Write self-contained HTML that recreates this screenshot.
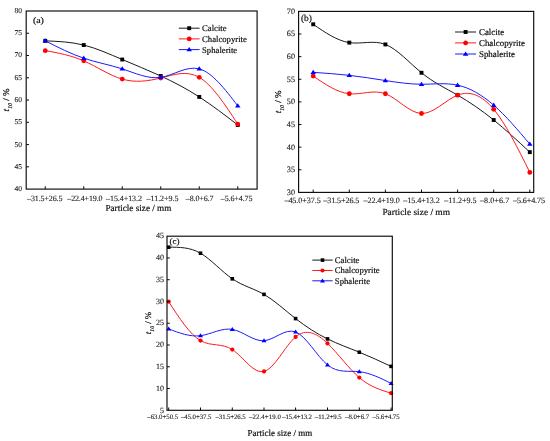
<!DOCTYPE html>
<html><head><meta charset="utf-8"><style>
html,body{margin:0;padding:0;background:#fff;width:550px;height:441px;overflow:hidden}
svg{display:block;filter:blur(0.35px)}
text{font-family:"Liberation Serif",serif;fill:#111;stroke:#111;stroke-width:0.2px;text-rendering:geometricPrecision}
text.tk{fill:#1e1e1e;stroke:#1e1e1e;stroke-width:0.12px}
</style></head><body>
<svg width="550" height="441" viewBox="0 0 550 441">
<rect width="550" height="441" fill="#fff"/>
<clipPath id="clipa"><rect x="26.2" y="11" width="230.90000000000003" height="178.1"/></clipPath>
<g>
<path d="M45.25,40.83 C58.08,41.36 70.92,41.88 83.75,45.06 C96.58,48.24 109.42,54.07 122.25,59.53 C135.08,65.00 147.92,70.10 160.75,76.01 C173.58,81.92 186.42,88.64 199.25,96.93 C212.08,105.23 224.92,115.11 237.75,124.98" fill="none" stroke="#1a1a1a" stroke-width="1.0"/>
<rect x="43.30" y="38.88" width="3.90" height="3.90" fill="#000"/>
<rect x="81.80" y="43.11" width="3.90" height="3.90" fill="#000"/>
<rect x="120.30" y="57.58" width="3.90" height="3.90" fill="#000"/>
<rect x="158.80" y="74.06" width="3.90" height="3.90" fill="#000"/>
<rect x="197.30" y="94.98" width="3.90" height="3.90" fill="#000"/>
<rect x="235.80" y="123.03" width="3.90" height="3.90" fill="#000"/>
<path d="M45.25,50.63 C58.08,52.93 70.92,55.24 83.75,60.87 C96.58,66.49 109.42,75.44 122.25,79.12 C135.08,82.81 147.92,81.23 160.75,78.01 C173.58,74.79 186.42,69.93 199.25,77.34 C212.08,84.75 224.92,104.42 237.75,124.09" fill="none" stroke="#ff1a1a" stroke-width="1.0"/>
<circle cx="45.25" cy="50.63" r="2.40" fill="#f00"/>
<circle cx="83.75" cy="60.87" r="2.40" fill="#f00"/>
<circle cx="122.25" cy="79.12" r="2.40" fill="#f00"/>
<circle cx="160.75" cy="78.01" r="2.40" fill="#f00"/>
<circle cx="199.25" cy="77.34" r="2.40" fill="#f00"/>
<circle cx="237.75" cy="124.09" r="2.40" fill="#f00"/>
<path d="M45.25,40.83 C58.08,47.34 70.92,53.86 83.75,58.20 C96.58,62.54 109.42,64.71 122.25,68.88 C135.08,73.06 147.92,79.24 160.75,77.34 C173.58,75.45 186.42,65.48 199.25,68.88 C212.08,72.29 224.92,89.06 237.75,105.84" fill="none" stroke="#1a1aff" stroke-width="1.0"/>
<path d="M45.25,38.25 L48.00,42.55 L42.50,42.55Z" fill="#00f"/>
<path d="M83.75,55.62 L86.50,59.92 L81.00,59.92Z" fill="#00f"/>
<path d="M122.25,66.30 L125.00,70.60 L119.50,70.60Z" fill="#00f"/>
<path d="M160.75,74.76 L163.50,79.06 L158.00,79.06Z" fill="#00f"/>
<path d="M199.25,66.30 L202.00,70.60 L196.50,70.60Z" fill="#00f"/>
<path d="M237.75,103.26 L240.50,107.56 L235.00,107.56Z" fill="#00f"/>
</g>
<rect x="26.20" y="11.00" width="230.90" height="178.10" fill="none" stroke="#0a0a0a" stroke-width="1.15"/>
<text x="22.10" y="191.05" text-anchor="end" class="tk" font-size="7.5">40</text>
<line x1="26.20" y1="166.84" x2="29.00" y2="166.84" stroke="#0a0a0a" stroke-width="1.0"/>
<text x="22.10" y="168.79" text-anchor="end" class="tk" font-size="7.5">45</text>
<line x1="26.20" y1="144.57" x2="29.00" y2="144.57" stroke="#0a0a0a" stroke-width="1.0"/>
<text x="22.10" y="146.52" text-anchor="end" class="tk" font-size="7.5">50</text>
<line x1="26.20" y1="122.31" x2="29.00" y2="122.31" stroke="#0a0a0a" stroke-width="1.0"/>
<text x="22.10" y="124.26" text-anchor="end" class="tk" font-size="7.5">55</text>
<line x1="26.20" y1="100.05" x2="29.00" y2="100.05" stroke="#0a0a0a" stroke-width="1.0"/>
<text x="22.10" y="102.00" text-anchor="end" class="tk" font-size="7.5">60</text>
<line x1="26.20" y1="77.79" x2="29.00" y2="77.79" stroke="#0a0a0a" stroke-width="1.0"/>
<text x="22.10" y="79.74" text-anchor="end" class="tk" font-size="7.5">65</text>
<line x1="26.20" y1="55.53" x2="29.00" y2="55.53" stroke="#0a0a0a" stroke-width="1.0"/>
<text x="22.10" y="57.48" text-anchor="end" class="tk" font-size="7.5">70</text>
<line x1="26.20" y1="33.26" x2="29.00" y2="33.26" stroke="#0a0a0a" stroke-width="1.0"/>
<text x="22.10" y="35.21" text-anchor="end" class="tk" font-size="7.5">75</text>
<text x="22.10" y="12.95" text-anchor="end" class="tk" font-size="7.5">80</text>
<line x1="45.25" y1="189.10" x2="45.25" y2="186.30" stroke="#0a0a0a" stroke-width="1.0"/>
<line x1="83.75" y1="189.10" x2="83.75" y2="186.30" stroke="#0a0a0a" stroke-width="1.0"/>
<line x1="122.25" y1="189.10" x2="122.25" y2="186.30" stroke="#0a0a0a" stroke-width="1.0"/>
<line x1="160.75" y1="189.10" x2="160.75" y2="186.30" stroke="#0a0a0a" stroke-width="1.0"/>
<line x1="199.25" y1="189.10" x2="199.25" y2="186.30" stroke="#0a0a0a" stroke-width="1.0"/>
<line x1="237.75" y1="189.10" x2="237.75" y2="186.30" stroke="#0a0a0a" stroke-width="1.0"/>
<text x="44.75" y="200.60" text-anchor="middle" class="tk" font-size="8.0" textLength="35.50" lengthAdjust="spacing">–31.5+26.5</text>
<text x="84.90" y="200.60" text-anchor="middle" class="tk" font-size="8.0" textLength="35.20" lengthAdjust="spacing">–22.4+19.0</text>
<text x="124.00" y="200.60" text-anchor="middle" class="tk" font-size="8.0" textLength="36.00" lengthAdjust="spacing">–15.4+13.2</text>
<text x="162.50" y="200.60" text-anchor="middle" class="tk" font-size="8.0" textLength="32.00" lengthAdjust="spacing">–11.2+9.5</text>
<text x="199.60" y="200.60" text-anchor="middle" class="tk" font-size="8.0" textLength="27.70" lengthAdjust="spacing">–8.0+6.7</text>
<text x="236.60" y="200.60" text-anchor="middle" class="tk" font-size="8.0" textLength="31.70" lengthAdjust="spacing">–5.6+4.75</text>
<text x="138.40" y="211.30" text-anchor="middle" font-size="9.2" textLength="65.90" lengthAdjust="spacingAndGlyphs">Particle size / mm</text>
<text transform="translate(9.20,100.00) rotate(-90)" text-anchor="middle" font-size="9"><tspan font-style="italic">t</tspan><tspan font-style="italic" font-size="5.76" dy="3.06">10</tspan><tspan dy="-3.06"> / %</tspan></text>
<text x="32.90" y="23.30" font-size="8.5" textLength="11.0" lengthAdjust="spacingAndGlyphs">(a)</text>
<line x1="178.8" y1="28.2" x2="199.6" y2="28.2" stroke="#1a1a1a" stroke-width="1.0"/>
<rect x="187.25" y="26.25" width="3.90" height="3.90" fill="#000"/>
<text x="202" y="31.10" font-size="8.7">Calcite</text>
<line x1="178.8" y1="38.9" x2="199.6" y2="38.9" stroke="#ff1a1a" stroke-width="1.0"/>
<circle cx="189.20" cy="38.90" r="2.40" fill="#f00"/>
<text x="202" y="41.80" font-size="8.7">Chalcopyrite</text>
<line x1="178.8" y1="49.6" x2="199.6" y2="49.6" stroke="#1a1aff" stroke-width="1.0"/>
<path d="M189.20,47.02 L191.95,51.32 L186.45,51.32Z" fill="#00f"/>
<text x="202" y="52.50" font-size="8.7">Sphalerite</text>
<clipPath id="clipb"><rect x="298.6" y="11.4" width="235.10000000000002" height="181.0"/></clipPath>
<g>
<path d="M313.20,24.30 C325.23,32.55 337.27,40.81 349.30,42.62 C361.33,44.43 373.37,39.80 385.40,44.43 C397.43,49.07 409.47,62.98 421.50,72.76 C433.53,82.54 445.57,88.18 457.60,95.11 C469.63,102.05 481.67,110.28 493.70,120.00 C505.73,129.72 517.77,140.92 529.80,152.13" fill="none" stroke="#1a1a1a" stroke-width="1.0"/>
<rect x="311.25" y="22.35" width="3.90" height="3.90" fill="#000"/>
<rect x="347.35" y="40.67" width="3.90" height="3.90" fill="#000"/>
<rect x="383.45" y="42.48" width="3.90" height="3.90" fill="#000"/>
<rect x="419.55" y="70.81" width="3.90" height="3.90" fill="#000"/>
<rect x="455.65" y="93.16" width="3.90" height="3.90" fill="#000"/>
<rect x="491.75" y="118.05" width="3.90" height="3.90" fill="#000"/>
<rect x="527.85" y="150.18" width="3.90" height="3.90" fill="#000"/>
<path d="M313.20,76.11 C325.23,84.32 337.27,92.53 349.30,93.76 C361.33,94.98 373.37,89.23 385.40,93.76 C397.43,98.28 409.47,113.07 421.50,113.48 C433.53,113.89 445.57,99.91 457.60,95.16 C469.63,90.40 481.67,94.87 493.70,109.28 C505.73,123.69 517.77,148.04 529.80,172.40" fill="none" stroke="#ff1a1a" stroke-width="1.0"/>
<circle cx="313.20" cy="76.11" r="2.40" fill="#f00"/>
<circle cx="349.30" cy="93.76" r="2.40" fill="#f00"/>
<circle cx="385.40" cy="93.76" r="2.40" fill="#f00"/>
<circle cx="421.50" cy="113.48" r="2.40" fill="#f00"/>
<circle cx="457.60" cy="95.16" r="2.40" fill="#f00"/>
<circle cx="493.70" cy="109.28" r="2.40" fill="#f00"/>
<circle cx="529.80" cy="172.40" r="2.40" fill="#f00"/>
<path d="M313.20,72.35 C325.23,73.16 337.27,73.96 349.30,75.34 C361.33,76.72 373.37,78.67 385.40,80.54 C397.43,82.42 409.47,84.21 421.50,84.25 C433.53,84.29 445.57,82.58 457.60,85.16 C469.63,87.74 481.67,94.62 493.70,105.16 C505.73,115.69 517.77,129.88 529.80,144.07" fill="none" stroke="#1a1aff" stroke-width="1.0"/>
<path d="M313.20,69.77 L315.95,74.07 L310.45,74.07Z" fill="#00f"/>
<path d="M349.30,72.76 L352.05,77.06 L346.55,77.06Z" fill="#00f"/>
<path d="M385.40,77.96 L388.15,82.26 L382.65,82.26Z" fill="#00f"/>
<path d="M421.50,81.67 L424.25,85.97 L418.75,85.97Z" fill="#00f"/>
<path d="M457.60,82.58 L460.35,86.88 L454.85,86.88Z" fill="#00f"/>
<path d="M493.70,102.58 L496.45,106.88 L490.95,106.88Z" fill="#00f"/>
<path d="M529.80,141.49 L532.55,145.79 L527.05,145.79Z" fill="#00f"/>
</g>
<rect x="298.60" y="11.40" width="235.10" height="181.00" fill="none" stroke="#0a0a0a" stroke-width="1.15"/>
<text x="295.00" y="194.85" text-anchor="end" class="tk" font-size="8.2">30</text>
<line x1="298.60" y1="169.78" x2="301.40" y2="169.78" stroke="#0a0a0a" stroke-width="1.0"/>
<text x="295.00" y="172.22" text-anchor="end" class="tk" font-size="8.2">35</text>
<line x1="298.60" y1="147.15" x2="301.40" y2="147.15" stroke="#0a0a0a" stroke-width="1.0"/>
<text x="295.00" y="149.60" text-anchor="end" class="tk" font-size="8.2">40</text>
<line x1="298.60" y1="124.53" x2="301.40" y2="124.53" stroke="#0a0a0a" stroke-width="1.0"/>
<text x="295.00" y="126.98" text-anchor="end" class="tk" font-size="8.2">45</text>
<line x1="298.60" y1="101.90" x2="301.40" y2="101.90" stroke="#0a0a0a" stroke-width="1.0"/>
<text x="295.00" y="104.35" text-anchor="end" class="tk" font-size="8.2">50</text>
<line x1="298.60" y1="79.28" x2="301.40" y2="79.28" stroke="#0a0a0a" stroke-width="1.0"/>
<text x="295.00" y="81.73" text-anchor="end" class="tk" font-size="8.2">55</text>
<line x1="298.60" y1="56.65" x2="301.40" y2="56.65" stroke="#0a0a0a" stroke-width="1.0"/>
<text x="295.00" y="59.10" text-anchor="end" class="tk" font-size="8.2">60</text>
<line x1="298.60" y1="34.03" x2="301.40" y2="34.03" stroke="#0a0a0a" stroke-width="1.0"/>
<text x="295.00" y="36.48" text-anchor="end" class="tk" font-size="8.2">65</text>
<text x="295.00" y="13.85" text-anchor="end" class="tk" font-size="8.2">70</text>
<line x1="313.20" y1="192.40" x2="313.20" y2="189.60" stroke="#0a0a0a" stroke-width="1.0"/>
<line x1="349.30" y1="192.40" x2="349.30" y2="189.60" stroke="#0a0a0a" stroke-width="1.0"/>
<line x1="385.40" y1="192.40" x2="385.40" y2="189.60" stroke="#0a0a0a" stroke-width="1.0"/>
<line x1="421.50" y1="192.40" x2="421.50" y2="189.60" stroke="#0a0a0a" stroke-width="1.0"/>
<line x1="457.60" y1="192.40" x2="457.60" y2="189.60" stroke="#0a0a0a" stroke-width="1.0"/>
<line x1="493.70" y1="192.40" x2="493.70" y2="189.60" stroke="#0a0a0a" stroke-width="1.0"/>
<line x1="529.80" y1="192.40" x2="529.80" y2="189.60" stroke="#0a0a0a" stroke-width="1.0"/>
<text x="302.60" y="203.30" text-anchor="middle" class="tk" font-size="8.1" textLength="36.40" lengthAdjust="spacing">–45.0+37.5</text>
<text x="341.30" y="203.30" text-anchor="middle" class="tk" font-size="8.1" textLength="36.00" lengthAdjust="spacing">–31.5+26.5</text>
<text x="381.60" y="203.30" text-anchor="middle" class="tk" font-size="8.1" textLength="36.20" lengthAdjust="spacing">–22.4+19.0</text>
<text x="421.60" y="203.30" text-anchor="middle" class="tk" font-size="8.1" textLength="36.60" lengthAdjust="spacing">–15.4+13.2</text>
<text x="460.50" y="203.30" text-anchor="middle" class="tk" font-size="8.1" textLength="32.30" lengthAdjust="spacing">–11.2+9.5</text>
<text x="494.60" y="203.30" text-anchor="middle" class="tk" font-size="8.1" textLength="29.20" lengthAdjust="spacing">–8.0+6.7</text>
<text x="529.00" y="203.30" text-anchor="middle" class="tk" font-size="8.1" textLength="31.90" lengthAdjust="spacing">–5.6+4.75</text>
<text x="416.20" y="214.90" text-anchor="middle" font-size="9.3" textLength="67.60" lengthAdjust="spacingAndGlyphs">Particle size / mm</text>
<text transform="translate(280.80,101.90) rotate(-90)" text-anchor="middle" font-size="9"><tspan font-style="italic">t</tspan><tspan font-style="italic" font-size="5.76" dy="3.06">10</tspan><tspan dy="-3.06"> / %</tspan></text>
<text x="301.00" y="20.60" font-size="9.2" textLength="10.9" lengthAdjust="spacingAndGlyphs">(b)</text>
<line x1="455.1" y1="32" x2="476.1" y2="32" stroke="#1a1a1a" stroke-width="1.0"/>
<rect x="463.65" y="30.05" width="3.90" height="3.90" fill="#000"/>
<text x="479" y="34.90" font-size="8.9">Calcite</text>
<line x1="455.1" y1="42.9" x2="476.1" y2="42.9" stroke="#ff1a1a" stroke-width="1.0"/>
<circle cx="465.60" cy="42.90" r="2.40" fill="#f00"/>
<text x="479" y="45.80" font-size="8.9">Chalcopyrite</text>
<line x1="455.1" y1="54" x2="476.1" y2="54" stroke="#1a1aff" stroke-width="1.0"/>
<path d="M465.60,51.42 L468.35,55.72 L462.85,55.72Z" fill="#00f"/>
<text x="479" y="56.90" font-size="8.9">Sphalerite</text>
<clipPath id="clipc"><rect x="167" y="236.2" width="225.3" height="174.10000000000002"/></clipPath>
<g>
<path d="M168.70,247.21 C179.30,247.17 189.90,247.12 200.50,253.22 C211.10,259.32 221.70,271.56 232.30,278.81 C242.87,286.04 253.43,288.31 264.00,294.39 C274.53,300.46 285.07,310.32 295.60,318.59 C306.23,326.95 316.87,333.68 327.50,338.92 C338.10,344.14 348.70,347.87 359.30,352.19 C369.90,356.52 380.50,361.45 391.10,366.38" fill="none" stroke="#1a1a1a" stroke-width="1.0"/>
<rect x="166.90" y="245.41" width="3.60" height="3.60" fill="#000"/>
<rect x="198.70" y="251.42" width="3.60" height="3.60" fill="#000"/>
<rect x="230.50" y="277.01" width="3.60" height="3.60" fill="#000"/>
<rect x="262.20" y="292.59" width="3.60" height="3.60" fill="#000"/>
<rect x="293.80" y="316.79" width="3.60" height="3.60" fill="#000"/>
<rect x="325.70" y="337.12" width="3.60" height="3.60" fill="#000"/>
<rect x="357.50" y="350.39" width="3.60" height="3.60" fill="#000"/>
<rect x="389.30" y="364.58" width="3.60" height="3.60" fill="#000"/>
<path d="M168.70,301.71 C179.30,318.08 189.90,334.45 200.50,340.62 C211.10,346.78 221.70,342.73 232.30,349.58 C242.87,356.41 253.43,374.08 264.00,371.39 C274.53,368.71 285.07,345.81 295.60,336.92 C306.23,327.94 316.87,333.24 327.50,343.40 C338.10,353.54 348.70,368.51 359.30,377.61 C369.90,386.72 380.50,389.96 391.10,393.19" fill="none" stroke="#ff1a1a" stroke-width="1.0"/>
<circle cx="168.70" cy="301.71" r="2.10" fill="#f00"/>
<circle cx="200.50" cy="340.62" r="2.10" fill="#f00"/>
<circle cx="232.30" cy="349.58" r="2.10" fill="#f00"/>
<circle cx="264.00" cy="371.39" r="2.10" fill="#f00"/>
<circle cx="295.60" cy="336.92" r="2.10" fill="#f00"/>
<circle cx="327.50" cy="343.40" r="2.10" fill="#f00"/>
<circle cx="359.30" cy="377.61" r="2.10" fill="#f00"/>
<circle cx="391.10" cy="393.19" r="2.10" fill="#f00"/>
<path d="M168.70,328.91 C179.30,332.98 189.90,337.05 200.50,335.70 C211.10,334.35 221.70,327.57 232.30,329.39 C242.87,331.19 253.43,341.53 264.00,340.70 C274.53,339.88 285.07,327.95 295.60,331.95 C306.23,336.00 316.87,356.27 327.50,364.90 C338.10,373.51 348.70,370.54 359.30,371.69 C369.90,372.85 380.50,378.12 391.10,383.40" fill="none" stroke="#1a1aff" stroke-width="1.0"/>
<path d="M168.70,326.51 L171.20,330.51 L166.20,330.51Z" fill="#00f"/>
<path d="M200.50,333.30 L203.00,337.30 L198.00,337.30Z" fill="#00f"/>
<path d="M232.30,326.99 L234.80,330.99 L229.80,330.99Z" fill="#00f"/>
<path d="M264.00,338.30 L266.50,342.30 L261.50,342.30Z" fill="#00f"/>
<path d="M295.60,329.56 L298.10,333.56 L293.10,333.56Z" fill="#00f"/>
<path d="M327.50,362.50 L330.00,366.50 L325.00,366.50Z" fill="#00f"/>
<path d="M359.30,369.29 L361.80,373.29 L356.80,373.29Z" fill="#00f"/>
<path d="M391.10,381.00 L393.60,385.00 L388.60,385.00Z" fill="#00f"/>
</g>
<rect x="167.00" y="236.20" width="225.30" height="174.10" fill="none" stroke="#0a0a0a" stroke-width="1.15"/>
<text x="164.00" y="412.50" text-anchor="end" class="tk" font-size="8.0">5</text>
<line x1="167.00" y1="388.54" x2="169.80" y2="388.54" stroke="#0a0a0a" stroke-width="1.0"/>
<text x="164.00" y="390.74" text-anchor="end" class="tk" font-size="8.0">10</text>
<line x1="167.00" y1="366.77" x2="169.80" y2="366.77" stroke="#0a0a0a" stroke-width="1.0"/>
<text x="164.00" y="368.97" text-anchor="end" class="tk" font-size="8.0">15</text>
<line x1="167.00" y1="345.01" x2="169.80" y2="345.01" stroke="#0a0a0a" stroke-width="1.0"/>
<text x="164.00" y="347.21" text-anchor="end" class="tk" font-size="8.0">20</text>
<line x1="167.00" y1="323.25" x2="169.80" y2="323.25" stroke="#0a0a0a" stroke-width="1.0"/>
<text x="164.00" y="325.45" text-anchor="end" class="tk" font-size="8.0">25</text>
<line x1="167.00" y1="301.49" x2="169.80" y2="301.49" stroke="#0a0a0a" stroke-width="1.0"/>
<text x="164.00" y="303.69" text-anchor="end" class="tk" font-size="8.0">30</text>
<line x1="167.00" y1="279.73" x2="169.80" y2="279.73" stroke="#0a0a0a" stroke-width="1.0"/>
<text x="164.00" y="281.93" text-anchor="end" class="tk" font-size="8.0">35</text>
<line x1="167.00" y1="257.96" x2="169.80" y2="257.96" stroke="#0a0a0a" stroke-width="1.0"/>
<text x="164.00" y="260.16" text-anchor="end" class="tk" font-size="8.0">40</text>
<text x="164.00" y="238.40" text-anchor="end" class="tk" font-size="8.0">45</text>
<line x1="168.70" y1="410.30" x2="168.70" y2="407.50" stroke="#0a0a0a" stroke-width="1.0"/>
<line x1="200.50" y1="410.30" x2="200.50" y2="407.50" stroke="#0a0a0a" stroke-width="1.0"/>
<line x1="232.30" y1="410.30" x2="232.30" y2="407.50" stroke="#0a0a0a" stroke-width="1.0"/>
<line x1="264.00" y1="410.30" x2="264.00" y2="407.50" stroke="#0a0a0a" stroke-width="1.0"/>
<line x1="295.60" y1="410.30" x2="295.60" y2="407.50" stroke="#0a0a0a" stroke-width="1.0"/>
<line x1="327.50" y1="410.30" x2="327.50" y2="407.50" stroke="#0a0a0a" stroke-width="1.0"/>
<line x1="359.30" y1="410.30" x2="359.30" y2="407.50" stroke="#0a0a0a" stroke-width="1.0"/>
<line x1="391.10" y1="410.30" x2="391.10" y2="407.50" stroke="#0a0a0a" stroke-width="1.0"/>
<text x="162.70" y="418.70" text-anchor="middle" class="tk" font-size="6.8" textLength="30.80" lengthAdjust="spacing">–63.0+50.5</text>
<text x="196.20" y="418.70" text-anchor="middle" class="tk" font-size="6.8" textLength="30.30" lengthAdjust="spacing">–45.0+37.5</text>
<text x="230.60" y="418.70" text-anchor="middle" class="tk" font-size="6.8" textLength="30.10" lengthAdjust="spacing">–31.5+26.5</text>
<text x="264.90" y="418.70" text-anchor="middle" class="tk" font-size="6.8" textLength="32.00" lengthAdjust="spacing">–22.4+19.0</text>
<text x="297.10" y="418.70" text-anchor="middle" class="tk" font-size="6.8" textLength="29.80" lengthAdjust="spacing">–15.4+13.2</text>
<text x="328.30" y="418.70" text-anchor="middle" class="tk" font-size="6.8" textLength="26.90" lengthAdjust="spacing">–11.2+9.5</text>
<text x="357.10" y="418.70" text-anchor="middle" class="tk" font-size="6.8" textLength="24.00" lengthAdjust="spacing">–8.0+6.7</text>
<text x="386.10" y="418.70" text-anchor="middle" class="tk" font-size="6.8" textLength="26.90" lengthAdjust="spacing">–5.6+4.75</text>
<text x="279.90" y="435.50" text-anchor="middle" font-size="9.1" textLength="64.60" lengthAdjust="spacingAndGlyphs">Particle size / mm</text>
<text transform="translate(150.90,323.00) rotate(-90)" text-anchor="middle" font-size="8.8"><tspan font-style="italic">t</tspan><tspan font-style="italic" font-size="5.63" dy="2.99">10</tspan><tspan dy="-2.99"> / %</tspan></text>
<text x="169.50" y="244.20" font-size="8.4" textLength="10.1" lengthAdjust="spacingAndGlyphs">(c)</text>
<line x1="312.3" y1="260.1" x2="332.7" y2="260.1" stroke="#1a1a1a" stroke-width="1.0"/>
<rect x="320.70" y="258.30" width="3.60" height="3.60" fill="#000"/>
<text x="334.8" y="263.00" font-size="8.7">Calcite</text>
<line x1="312.3" y1="270.5" x2="332.7" y2="270.5" stroke="#ff1a1a" stroke-width="1.0"/>
<circle cx="322.50" cy="270.50" r="2.10" fill="#f00"/>
<text x="334.8" y="273.40" font-size="8.7">Chalcopyrite</text>
<line x1="312.3" y1="280.8" x2="332.7" y2="280.8" stroke="#1a1aff" stroke-width="1.0"/>
<path d="M322.50,278.40 L325.00,282.40 L320.00,282.40Z" fill="#00f"/>
<text x="334.8" y="283.70" font-size="8.7">Sphalerite</text>
</svg></body></html>
